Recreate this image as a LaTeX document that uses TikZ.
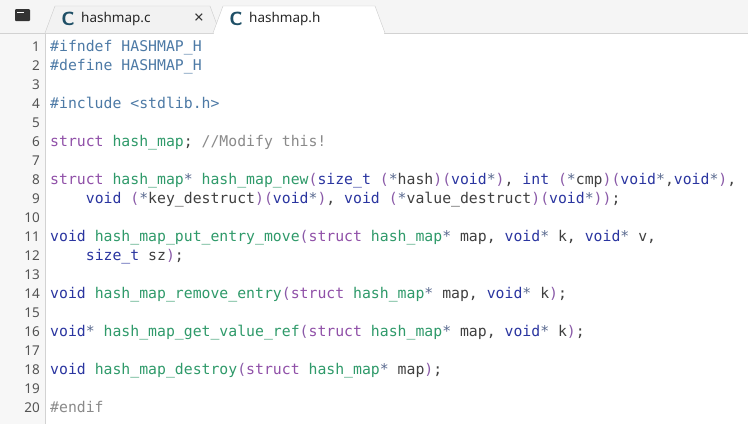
\documentclass[tikz,border=0pt]{standalone}
\usepackage{fontspec}
\setmainfont{Noto Sans}
\setmonofont{DejaVu Sans Mono}
\definecolor{pre}{HTML}{4D7AA6}
\definecolor{kwc}{HTML}{9050A8}
\definecolor{grn}{HTML}{2F9A6A}
\definecolor{vd}{HTML}{2A35A0}
\definecolor{par}{HTML}{8A5AA8}
\definecolor{cmt}{HTML}{8A8A8A}
\definecolor{dft}{HTML}{404040}
\definecolor{st}{HTML}{5A6A90}
\definecolor{cic}{HTML}{1E4F66}
\newcommand{\Kw}[1]{\textcolor{kwc}{#1}}
\newcommand{\Gr}[1]{\textcolor{grn}{#1}}
\newcommand{\Vd}[1]{\textcolor{vd}{#1}}
\newcommand{\Pa}[1]{\textcolor{par}{#1}}
\newcommand{\St}{\textcolor{st}{*}}
\newcommand{\Ind}{\phantom{xxxx}}
\begin{document}
\begin{tikzpicture}[x=1pt,y=-1pt,
  code/.style={anchor=base west,inner sep=0pt,font=\ttfamily\fontsize{14.8}{16}\selectfont,text=dft},
  num/.style={anchor=base east,inner sep=0pt,font=\fontsize{13.5}{16}\selectfont,text=dft!90},
  cicon/.style={anchor=center,inner sep=0pt,font=\sffamily\bfseries\fontsize{19}{19}\selectfont,text=cic}]
\useasboundingbox (0,0) rectangle (748,424);
\fill[white] (0,0) rectangle (748,424);
\fill[gray!8] (0,0) rectangle (748,33);
\fill[gray!6] (0,33) rectangle (45,424);
\draw[gray!35] (45,33) -- (45,424);
\draw[gray!35] (0,33) -- (748,33);
% icon
\fill[black!80,rounded corners=1pt] (15,9) rectangle (30,21);
\fill[white] (17,12) rectangle (24,13);
% tabs
\draw[gray!40,fill=gray!10] (45,33) -- (55,6) -- (210,6) -- (220,33);
\draw[gray!40,fill=white] (213,33) -- (223,6) -- (375,6) -- (385,33);
\fill[white] (214,32.5) rectangle (384,34);
\node[cicon] (ic1) at (68,19) {C};
\node[anchor=west,inner sep=0pt,font=\fontsize{13.5}{16}\selectfont,text=black!85] (t1) at (81,19) {hashmap.c};
\node[anchor=center,inner sep=0pt,font=\fontsize{17}{17}\selectfont,text=black!80] (x1) at (199,19) {×};
\node[cicon] (ic2) at (236,19) {C};
\node[anchor=west,inner sep=0pt,font=\fontsize{13.5}{16}\selectfont,text=black!85] (t2) at (249,19) {hashmap.h};
% line numbers
\foreach \i in {1,...,20}{
  \node[num] (n\i) at (40,{51+(\i-1)*19.05}) {\i};
}
\newcommand{\Ln}[2]{\node[code] (l#1) at (50,{51+(#1-1)*19.05}) {#2};}
\Ln{1}{\textcolor{pre}{\#ifndef HASHMAP\_H}}
\Ln{2}{\textcolor{pre}{\#define HASHMAP\_H}}
\Ln{4}{\textcolor{pre}{\#include <stdlib.h>}}
\Ln{6}{\Kw{struct} \Gr{hash\_map}; \textcolor{cmt}{//Modify this!}}
\Ln{8}{\Kw{struct} \Gr{hash\_map}\St{} \Gr{hash\_map\_new}\Pa{(}\Vd{size\_t} \Pa{(}\St{}hash\Pa{)(}\Vd{void}\St\Pa{)}, \Vd{int} \Pa{(}\St{}cmp\Pa{)(}\Vd{void}\St,\Vd{void}\St\Pa{)},}
\Ln{9}{\Ind\Vd{void} \Pa{(}\St{}key\_destruct\Pa{)(}\Vd{void}\St\Pa{)}, \Vd{void} \Pa{(}\St{}value\_destruct\Pa{)(}\Vd{void}\St\Pa{))};}
\Ln{11}{\Vd{void} \Gr{hash\_map\_put\_entry\_move}\Pa{(}\Kw{struct} \Gr{hash\_map}\St{} map, \Vd{void}\St{} k, \Vd{void}\St{} v,}
\Ln{12}{\Ind\Vd{size\_t} sz\Pa{)};}
\Ln{14}{\Vd{void} \Gr{hash\_map\_remove\_entry}\Pa{(}\Kw{struct} \Gr{hash\_map}\St{} map, \Vd{void}\St{} k\Pa{)};}
\Ln{16}{\Vd{void}\St{} \Gr{hash\_map\_get\_value\_ref}\Pa{(}\Kw{struct} \Gr{hash\_map}\St{} map, \Vd{void}\St{} k\Pa{)};}
\Ln{18}{\Vd{void} \Gr{hash\_map\_destroy}\Pa{(}\Kw{struct} \Gr{hash\_map}\St{} map\Pa{)};}
\Ln{20}{\textcolor{cmt}{\#endif}}
\end{tikzpicture}
\end{document}
